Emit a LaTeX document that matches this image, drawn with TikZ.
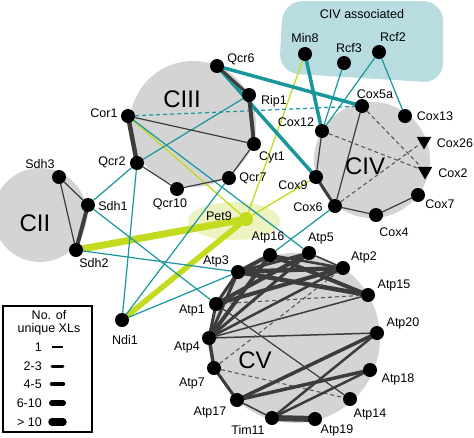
\documentclass[tikz,border=0pt]{standalone}
\usepackage{fontspec}
\setmainfont{Liberation Sans}
\usetikzlibrary{shapes.geometric}
\definecolor{tealc}{RGB}{25,150,155}
\definecolor{limec}{RGB}{195,218,30}
\definecolor{glowc}{RGB}{236,242,192}
\definecolor{cgray}{RGB}{212,212,212}
\definecolor{civac}{RGB}{184,220,224}
\definecolor{edgec}{RGB}{60,60,60}
\pgfdeclarelayer{bg}\pgfdeclarelayer{edges}\pgfsetlayers{bg,edges,main}
\begin{document}
\begin{tikzpicture}[x=1pt,y=-1pt,
  dot/.style={circle,fill=black,inner sep=0pt,minimum size=14pt},
  tri/.style={regular polygon,regular polygon sides=3,shape border rotate=180,fill=black,inner sep=0pt,minimum size=17pt},
  lab/.style={font=\fontsize{12.5}{14}\selectfont,inner sep=0pt},
  big/.style={font=\fontsize{24}{26}\selectfont,inner sep=0pt},
  cplx/.style={fill=cgray,draw=none},
  te/.style={draw=tealc,line width=1.2pt},
  ted/.style={draw=tealc,line width=1.2pt,dash pattern=on 4pt off 3pt},
  tet/.style={draw=tealc,line width=3.5pt},
  ye/.style={draw=limec,line width=1.3pt},
  dk/.style={draw=edgec,line width=#1},
  dk/.default=1.2pt,
  dsh/.style={draw=edgec!85,line width=1.1pt,dash pattern=on 4pt off 3pt},
  lg/.style={draw=black,line width=#1,line cap=round}]
\useasboundingbox (0,0) rectangle (474,437);
% backgrounds
\begin{pgfonlayer}{bg}
\fill[civac,rounded corners=20pt] (283,1) -- (443,1) -- (443,83) -- (279,73) -- cycle;
\fill[cplx] (193,124) circle (63);
\fill[cplx] (372,160) circle (58);
\fill[cplx] (40,215) circle (47);
\fill[cplx] (295,338) circle (85);
\fill[glowc] (234,221) ellipse (46 and 19);
\end{pgfonlayer}
% nodes CIII
\node[dot] (cor1) at (128,116) {};
\node[dot] (qcr2) at (137,163) {};
\node[dot] (qcr10) at (177,189) {};
\node[dot] (qcr7) at (229,178) {};
\node[dot] (cyt1) at (254,144) {};
\node[dot] (rip1) at (249,95) {};
\node[dot] (qcr6) at (217,66) {};
% CII
\node[dot] (sdh3) at (59,177) {};
\node[dot] (sdh1) at (88,205) {};
\node[dot] (sdh2) at (76,250) {};
\node[dot] (ndi1) at (122,320) {};
\node[dot,fill=limec] (pet9) at (246,219) {};
% CIV
\node[dot] (cox12) at (322,131) {};
\node[dot] (cox9) at (316,177) {};
\node[dot] (cox6) at (335,206) {};
\node[dot] (cox4) at (376,215) {};
\node[dot] (cox7) at (418,195) {};
\node[tri] (cox2) at (425,171) {};
\node[tri] (cox26) at (424,141) {};
\node[dot] (cox13) at (405,116) {};
\node[dot] (cox5a) at (362,106) {};
\node[dot] (min8) at (305,54) {};
\node[dot] (rcf3) at (344,63) {};
\node[dot] (rcf2) at (379,52) {};
% CV
\node[dot] (atp16) at (270,255) {};
\node[dot] (atp5) at (309,253) {};
\node[dot] (atp2) at (343,268) {};
\node[dot] (atp15) at (368,295) {};
\node[dot] (atp20) at (377,333) {};
\node[dot] (atp18) at (370,370) {};
\node[dot] (atp14) at (350,399) {};
\node[dot] (atp19) at (315,419) {};
\node[dot] (tim11) at (272,418) {};
\node[dot] (atp17) at (237,400) {};
\node[dot] (atp7) at (214,368) {};
\node[dot] (atp4) at (209,338) {};
\node[dot] (atp1) at (216,304) {};
\node[dot] (atp3) at (238,272) {};
% edges
\begin{pgfonlayer}{edges}
% yellow
\draw[limec,line width=7pt] (sdh2.center) -- (pet9.center);
\draw[limec,line width=5.5pt] (ndi1.center) -- (pet9.center);
\draw[ye] (cor1) -- (pet9);
\draw[ye] (pet9) -- (min8);
\draw[ye] (pet9) -- (cox9);
% teal
\draw[te] (cor1) -- (atp5);
\draw[te] (qcr2) -- (rip1);
\draw[te] (qcr2) -- (ndi1);
\draw[te] (qcr2) -- (sdh1);
\draw[te] (sdh1) -- (atp1);
\draw[te] (sdh2) -- (atp3);
\draw[te] (ndi1) -- (atp3);
\draw[te] (ndi1) -- (qcr7);
\draw[te] (cox6) -- (atp16);
\draw[te] (cox12) -- (rcf3);
\draw[te] (cox12) -- (rcf2);
\draw[te] (rcf2) -- (cox13);
\draw[ted] (cor1) -- (cox5a);
\draw[tet] (qcr6.center) -- (cox5a.center);
\draw[tet] (qcr6.center) -- (cox9.center);
\draw[tet] (min8.center) -- (cox12.center);
% CII
\draw[dk] (sdh3) -- (sdh1);
\draw[dk] (sdh3) -- (sdh2);
\draw[dk=4pt] (sdh1.center) -- (sdh2.center);
% CIII
\draw[dk=4.5pt] (cor1.center) -- (qcr2.center);
\draw[dk] (qcr2) -- (qcr10);
\draw[dk] (qcr10) -- (qcr7);
\draw[dk] (qcr7) -- (cyt1);
\draw[dk=4pt] (cyt1.center) -- (rip1.center);
\draw[dk=3pt] (rip1.center) -- (qcr6.center);
\draw[dk] (cor1) -- (cyt1);
% CIV
\draw[dk] (cox12) -- (cox9);
\draw[dk=3pt] (cox9.center) -- (cox6.center);
\draw[dk] (cox6) -- (cox4);
\draw[dk] (cox4) -- (cox7);
\draw[dk] (cox5a) -- (cox6);
\draw[dsh] (cox12) -- (cox2);
\draw[dsh] (cox5a) -- (cox2);
\draw[dsh] (cox6) -- (cox26);
% CV
\draw[dk=4pt] (atp3.center) -- (atp16.center);
\draw[dk=4.5pt] (atp3.center) -- (atp2.center);
\draw[dk=4.5pt] (atp3.center) -- (atp15.center);
\draw[dk=3pt] (atp3.center) -- (atp5.center);
\draw[dk=3pt] (atp3.center) -- (atp1.center);
\draw[dk=4pt] (atp16.center) -- (atp15.center);
\draw[dk=2.5pt] (atp16.center) -- (atp2.center);
\draw[dk=1.5pt] (atp5) -- (atp2);
\draw[dk=4pt] (atp1.center) -- (atp5.center);
\draw[dk=4pt] (atp1.center) -- (atp2.center);
\draw[dsh] (atp1) -- (atp15);
\draw[dk] (atp1) -- (atp14);
\draw[dk=3pt] (atp1.center) -- (atp4.center);
\draw[dk=4pt] (atp4.center) -- (atp16.center);
\draw[dk=3pt] (atp4.center) -- (atp5.center);
\draw[dk=2.5pt] (atp4.center) -- (atp2.center);
\draw[dk=1.5pt] (atp4) -- (atp15);
\draw[dk=1.5pt] (atp4) -- (atp20);
\draw[dk=3pt] (atp4.center) -- (atp3.center);
\draw[dk=3.5pt] (atp4.center) -- (atp7.center);
\draw[dsh] (atp7) -- (atp2);
\draw[dsh] (atp7) -- (atp14);
\draw[dk=3pt] (atp7.center) -- (atp17.center);
\draw[dk=1.5pt] (atp17) -- (tim11);
\draw[dk=3.5pt] (atp17.center) -- (atp20.center);
\draw[dk=3.5pt] (atp17.center) -- (atp18.center);
\draw[dk=2.5pt] (tim11.center) -- (atp20.center);
\draw[dk=2.5pt] (tim11.center) -- (atp18.center);
\draw[dk=6pt] (tim11.center) -- (atp19.center);
\end{pgfonlayer}
% labels
\node[lab] (l-civa) at (362,14) {CIV associated};
\node[big] (l-ciii) at (182,99) {CIII};
\node[big] (l-civ) at (365,166) {CIV};
\node[big] (l-cii) at (35,223) {CII};
\node[big] (l-cv) at (255,360) {CV};
\node[lab] (l-qcr6) at (241,59) {Qcr6};
\node[lab] (l-rip1) at (274,101) {Rip1};
\node[lab] (l-cyt1) at (272,157) {Cyt1};
\node[lab] (l-qcr7) at (253,178) {Qcr7};
\node[lab] (l-qcr10) at (170,204) {Qcr10};
\node[lab] (l-qcr2) at (112,162) {Qcr2};
\node[lab] (l-cor1) at (104,113) {Cor1};
\node[lab] (l-sdh3) at (40,164) {Sdh3};
\node[lab] (l-sdh1) at (113,206) {Sdh1};
\node[lab] (l-sdh2) at (94,263) {Sdh2};
\node[lab] (l-ndi1) at (125,340) {Ndi1};
\node[lab] (l-pet9) at (219,216) {Pet9};
\node[lab] (l-cox9) at (293,185) {Cox9};
\node[lab] (l-cox6) at (308,207) {Cox6};
\node[lab] (l-cox12) at (296,122) {Cox12};
\node[lab] (l-cox5a) at (375,94) {Cox5a};
\node[lab] (l-cox13) at (435,116) {Cox13};
\node[lab] (l-cox26) at (455,143) {Cox26};
\node[lab] (l-cox2) at (453,173) {Cox2};
\node[lab] (l-cox7) at (440,204) {Cox7};
\node[lab] (l-cox4) at (394,232) {Cox4};
\node[lab] (l-min8) at (305,38) {Min8};
\node[lab] (l-rcf3) at (349,48) {Rcf3};
\node[lab] (l-rcf2) at (393,37) {Rcf2};
\node[lab] (l-atp16) at (268,237) {Atp16};
\node[lab] (l-atp5) at (321,238) {Atp5};
\node[lab] (l-atp2) at (364,257) {Atp2};
\node[lab] (l-atp15) at (394,285) {Atp15};
\node[lab] (l-atp20) at (403,323) {Atp20};
\node[lab] (l-atp18) at (398,379) {Atp18};
\node[lab] (l-atp14) at (370,414) {Atp14};
\node[lab] (l-atp19) at (337,430) {Atp19};
\node[lab] (l-tim11) at (248,430) {Tim11};
\node[lab] (l-atp17) at (210,412) {Atp17};
\node[lab] (l-atp7) at (192,383) {Atp7};
\node[lab] (l-atp4) at (187,347) {Atp4};
\node[lab] (l-atp1) at (192,310) {Atp1};
\node[lab] (l-atp3) at (216,261) {Atp3};
% legend
\node[draw=black,line width=1.2pt,minimum width=89pt,minimum height=126pt,inner sep=0pt] (legend) at (47.5,369) {};
\node[lab] (lg-t1) at (49,315) {No. of};
\node[lab] (lg-t2) at (49,329) {unique XLs};
\node[lab,anchor=east] (lg-a) at (42,347) {1};
\node[lab,anchor=east] (lg-b) at (42,366) {2-3};
\node[lab,anchor=east] (lg-c) at (42,384) {4-5};
\node[lab,anchor=east] (lg-d) at (42,403) {6-10};
\node[lab,anchor=east] (lg-e) at (42,422) {> 10};
\coordinate (la1) at (52,347); \coordinate (la2) at (63,347);
\coordinate (lb1) at (52,366); \coordinate (lb2) at (63,366);
\coordinate (lc1) at (52,384); \coordinate (lc2) at (63,384);
\coordinate (ld1) at (52,403); \coordinate (ld2) at (63,403);
\coordinate (le1) at (52,422); \coordinate (le2) at (63,422);
\draw[lg=1.2pt,line cap=butt] (la1) -- (la2);
\draw[lg=3pt] (lb1) -- (lb2);
\draw[lg=4.5pt] (lc1) -- (lc2);
\draw[lg=6pt] (ld1) -- (ld2);
\draw[lg=7.5pt] (le1) -- (le2);
\end{tikzpicture}
\end{document}
